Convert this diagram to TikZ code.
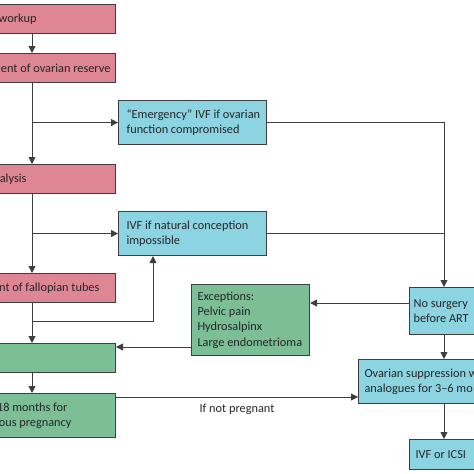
\documentclass[tikz,border=0pt]{standalone}
\usepackage{fontspec}
\setmainfont{Carlito}
\usepackage{xcolor}
\usetikzlibrary{positioning, arrows.meta}

\definecolor{pinkfill}{RGB}{223,134,148}
\definecolor{bluefill}{RGB}{140,212,226}
\definecolor{greenfill}{RGB}{124,190,150}
\definecolor{edgegray}{RGB}{62,62,62}
\definecolor{textgray}{RGB}{38,38,38}

% line of given width, text left aligned
\newcommand{\lline}[2]{\makebox[#1][l]{#2}}
% line cut at the left border: text ends #1 from the inner left edge
\newcommand{\rline}[2]{\makebox[112pt][l]{\makebox[#1][r]{#2}}}

\tikzset{
  box/.style={draw=edgegray, line width=1.1pt, text=textgray, align=left,
    inner ysep=0pt, font=\fontsize{12.3}{15.3}\selectfont},
  pinkbox/.style={box, fill=pinkfill, minimum height=29pt, inner xsep=3pt, anchor=north east},
  bluebox/.style={box, fill=bluefill, anchor=north west},
  greenbox/.style={box, fill=greenfill},
  link/.style={draw=edgegray, line width=0.9pt}
}

\begin{document}
\begin{tikzpicture}[x=1pt, y=-1pt, >={Triangle[length=7pt,width=7pt]}]
        \useasboundingbox (0,0) rectangle (474,474);
        \clip (0,0) rectangle (474,474);
        \coordinate (trunk) at (32,0);
        \coordinate (rtrunk) at (444,0);

        % left column
        \node[pinkbox] (workup) at (116,4) {\rline{36pt}{workup}};
        \node[pinkbox] (reserve) at (116,53) {\rline{110pt}{ment of ovarian reserve}};
        \node[pinkbox] (analysis) at (116,164) {\rline{26pt}{alysis}};
        \node[pinkbox] (tubes) at (116,273) {\rline{99pt}{nt of fallopian tubes}};
        \node[greenbox, anchor=north east, minimum height=29pt, minimum width=140pt] (expectant) at (116,343) {};
        \node[greenbox, anchor=north east, minimum height=44pt, inner xsep=3pt] (wait) at (116,393) {\rline{67pt}{18 months for}\\\rline{71pt}{ous pregnancy}};

        % middle
        \node[bluebox, minimum height=44pt, inner xsep=8pt] (emergency) at (118,100) {\lline{132pt}{“Emergency” IVF if ovarian}\\function compromised};
        \node[bluebox, minimum height=44pt, inner xsep=8pt] (natural) at (118,211) {\lline{132pt}{IVF if natural conception}\\impossible};
        \node[greenbox, anchor=north west, minimum height=71pt, inner xsep=6pt] (exceptions) at (191,284) {\lline{106pt}{Exceptions:}\\Pelvic pain\\Hydrosalpinx\\Large endometrioma};

        % right column
        \node[bluebox, minimum height=47pt, inner xsep=4pt] (nosurg) at (409,287) {\lline{90pt}{No surgery}\\before ART};
        \node[bluebox, minimum height=44pt, inner xsep=6pt] (ovarian) at (358,359) {\lline{140pt}{Ovarian suppression w}\\analogues for 3–6 mo};
        \node[bluebox, minimum height=30pt, inner xsep=6pt] (ivf) at (409,439) {\lline{90pt}{IVF or ICSI}};

        % trunk on the left
        \draw[link,->] (workup.south -| trunk) -- (reserve.north -| trunk);
        \draw[link,->] (reserve.south -| trunk) -- (analysis.north -| trunk);
        \draw[link,->] (emergency.west -| trunk) -- (emergency.west);
        \draw[link,->] (analysis.south -| trunk) -- (tubes.north -| trunk);
        \draw[link,->] (natural.west -| trunk) -- (natural.west);
        \draw[link,->] (tubes.south -| trunk) -- (expectant.north -| trunk);
        \coordinate (tubejoin) at (153,321);
        \draw[link,->] (tubejoin -| trunk) -- (tubejoin) -- (natural.south -| tubejoin);
        \draw[link,->] (expectant.south -| trunk) -- (wait.north -| trunk);

        % trunk on the right
        \draw[link,->] (emergency.east) -| (rtrunk |- nosurg.north);
        \draw[link] (natural.east) -- (natural.east -| rtrunk);
        \draw[link,->] (nosurg.south -| rtrunk) -- (ovarian.north -| rtrunk);
        \draw[link,->] (ovarian.south -| rtrunk) -- (ivf.north -| rtrunk);

        % across
        \coordinate (skip) at (0,303);
        \draw[link,->] (nosurg.west |- skip) -- (exceptions.east |- skip);
        \coordinate (back) at (0,347);
        \draw[link,->] (exceptions.west |- back) -- (expectant.east |- back);
        \coordinate (np) at (0,397);
        \draw[link,->] (wait.east |- np) -- node[below=3pt, text=textgray, font=\fontsize{12.3}{15.3}\selectfont] (notpreg) {If not pregnant} (ovarian.west |- np);
    \end{tikzpicture}
\end{document}
